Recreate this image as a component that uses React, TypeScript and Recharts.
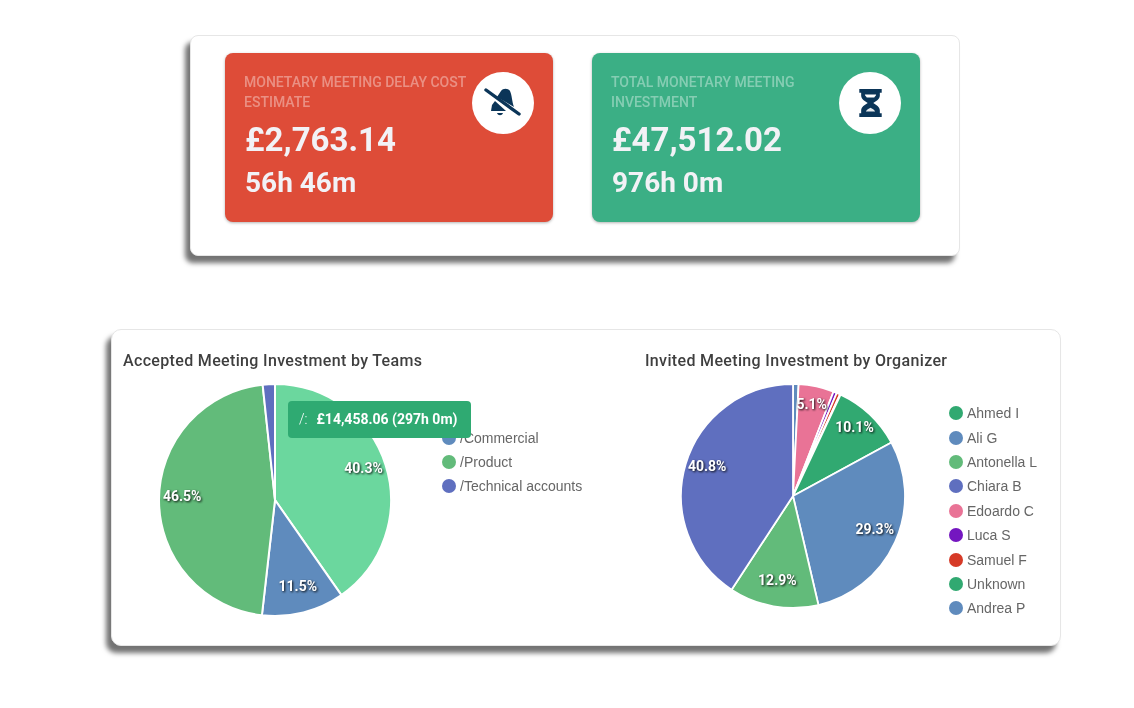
import { PieChart, Pie, Cell, Legend, Tooltip } from 'recharts'

const FONT = 'Roboto, sans-serif'

// left pie, in legend order
const teamNames = ['/', '/Commercial', '/Product', '/Technical accounts']
const teamValues = [40.3, 11.5, 46.5, 1.7]
const teamColors = ['#6BD79E', '#5F8BBD', '#62BB7A', '#5F6FBF']
const teamTooltips = ['£14,458.06 (297h 0m)', '', '', '']

// right pie, clockwise from 12 o'clock
const organizerNames = ['Andrea P', 'Edoardo C', 'Luca S', 'Samuel F', 'Unknown', 'Ahmed I', 'Ali G', 'Antonella L', 'Chiara B']
const organizerValues = [0.8, 5.1, 0.5, 0.5, 0.1, 10.1, 29.3, 12.9, 40.8]
const organizerColors = ['#5F8BBD', '#E97396', '#7416C0', '#D63A27', '#31A971', '#31A971', '#5F8BBD', '#62BB7A', '#5F6FBF']
const organizerLegend = ['Ahmed I', 'Ali G', 'Antonella L', 'Chiara B', 'Edoardo C', 'Luca S', 'Samuel F', 'Unknown', 'Andrea P']

const teamData = teamNames.map((name, i) => ({ name, value: teamValues[i], tip: teamTooltips[i] }))
const organizerData = organizerNames.map((name, i) => ({ name, value: organizerValues[i] }))

const renderLabel = ({ cx, cy, midAngle, outerRadius, value }: any) => {
  if (value < 5) return null
  const rad = (midAngle * Math.PI) / 180
  const r = outerRadius * 0.8
  return (
    <text
      x={cx + r * Math.cos(rad)}
      y={cy - r * Math.sin(rad) - 4}
      fill="#fff"
      textAnchor="middle"
      dominantBaseline="central"
      style={{ fontFamily: FONT, fontSize: 14, fontWeight: 700, filter: 'drop-shadow(1px 1px 1px rgba(0,0,0,0.9))' }}
    >
      {value.toFixed(1)}%
    </text>
  )
}

const makeLegend = (names: string[], colorOf: (name: string, i: number) => string) => () => (
  <div>
    {names.map((name, i) => (
      <div key={name} style={{ display: 'flex', alignItems: 'center', height: 24.4, fontFamily: '"Liberation Sans", Arial, sans-serif', fontSize: 14, color: '#666', whiteSpace: 'nowrap' }}>
        <span style={{ width: 14, height: 14, borderRadius: 7, marginRight: 4, background: colorOf(name, i) }} />
        {name}
      </div>
    ))}
  </div>
)

const TeamTooltip = ({ active, payload }: any) => {
  if (!active || !payload || !payload.length) return null
  const row = payload[0].payload
  return (
    <div style={{ background: '#2FAA72', color: '#fff', borderRadius: 4, width: 183, height: 37, lineHeight: '37px', fontFamily: FONT, fontSize: 14, whiteSpace: 'nowrap', boxSizing: 'border-box', paddingLeft: 11 }}>
      <span style={{ marginRight: 9, fontWeight: 300 }}>{row.name}:</span>
      <b style={{ fontWeight: 700 }}>{row.tip}</b>
    </div>
  )
}

function Stat({ left, bg, title, money, time, children }: any) {
  return (
    <div style={{ position: 'absolute', left, top: 53, width: 328, height: 169, background: bg, borderRadius: 8, boxShadow: '0 1px 3px rgba(0,0,0,0.3)', color: '#F2F2F6', fontFamily: FONT }}>
      <div style={{ position: 'absolute', left: 19, top: 19, width: 240, fontSize: 14, lineHeight: '20px', fontWeight: 500, color: 'rgba(255,255,255,0.38)' }}>{title}</div>
      <div style={{ position: 'absolute', left: 20, top: 67, fontSize: 33, lineHeight: '40px', fontWeight: 700 }}>{money}</div>
      <div style={{ position: 'absolute', left: 20, top: 113, fontSize: 28, lineHeight: '34px', fontWeight: 700 }}>{time}</div>
      <div style={{ position: 'absolute', left: 247, top: 19, width: 62, height: 62, borderRadius: 31, background: '#fff', display: 'flex', alignItems: 'center', justifyContent: 'center' }}>{children}</div>
    </div>
  )
}

const titleStyle: any = { position: 'absolute', top: 351, fontFamily: FONT, fontSize: 16, letterSpacing: 0.34, lineHeight: '20px', fontWeight: 500, color: '#3f3f3f', whiteSpace: 'nowrap' }
const panelShadow = '-5px 7px 5px rgba(0,0,0,0.55)'

export default function App() {
  return (
    <div style={{ position: 'absolute', left: 0, top: 0, width: 1134, height: 708, background: '#fff', overflow: 'hidden', filter: 'blur(0.45px)' }}>
      <div style={{ position: 'absolute', left: 190, top: 35, width: 770, height: 221, boxSizing: 'border-box', background: '#fff', border: '1px solid #e6e6e6', borderRadius: 8, boxShadow: panelShadow }} />
      <Stat left={225} bg="#DE4C38" title="MONETARY MEETING DELAY COST ESTIMATE" money="£2,763.14" time="56h 46m">
        <svg width="62" height="62" viewBox="0 0 62 62" fill="#0B3558">
          <path d="M25 25 L29 19 C31 16 36 16 38 19 C40 23 40 30 42 35 Z" />
          <path d="M20 33 L23 29 L34 39 L19 39 Z" />
          <path d="M25 41 L31 41 C30 44 26 44 25 41 Z" />
          <path d="M14 18 L47 42" stroke="#fff" strokeWidth="2" transform="translate(-1 2)" />
          <path d="M14 18 L47 42" stroke="#0B3558" strokeWidth="3.4" strokeLinecap="round" />
        </svg>
      </Stat>
      <Stat left={592} bg="#3BAF85" title="TOTAL MONETARY MEETING INVESTMENT" money="£47,512.02" time="976h 0m">
        <svg width="23" height="28" viewBox="0 0 24 30" fill="#0B3558">
          <path d="M0 0h24v4h-2v3c0 4-4 6-7 8 3 2 7 4 7 8v3h2v4H0v-4h2v-3c0-4 4-6 7-8-3-2-7-4-7-8V4H0z" />
          <path d="M6 6h12c0 1-1 2-2 3H8C7 8 6 7 6 6z" fill="#fff" />
          <path d="M12 20c-2 1-4 2-5 4h10c-1-2-3-3-5-4z" fill="#fff" opacity="0.9" />
        </svg>
      </Stat>

      <div style={{ position: 'absolute', left: 111, top: 329, width: 950, height: 317, boxSizing: 'border-box', background: '#fff', border: '1px solid #e6e6e6', borderRadius: 10, boxShadow: panelShadow }} />
      <div style={{ ...titleStyle, left: 123 }}>Accepted Meeting Investment by Teams</div>
      <div style={{ ...titleStyle, left: 645 }}>Invited Meeting Investment by Organizer</div>

      <div style={{ position: 'absolute', left: 120, top: 370 }}>
        <PieChart width={480} height={260} margin={{ top: 0, right: 0, bottom: 0, left: 0 }}>
          <Pie data={teamData} dataKey="value" nameKey="name" cx={155} cy={130} outerRadius={116} startAngle={90} endAngle={-270} stroke="#fff" strokeWidth={2} label={renderLabel} labelLine={false} isAnimationActive={false}>
            {teamData.map((_, i) => <Cell key={i} fill={teamColors[i]} />)}
          </Pie>
          <Legend layout="vertical" align="right" verticalAlign="top" wrapperStyle={{ left: 322, top: 31, width: 150 }} content={makeLegend(teamNames, (_, i) => teamColors[i])} />
          <Tooltip active defaultIndex={0} position={{ x: 168, y: 31 }} content={<TeamTooltip />} isAnimationActive={false} />
        </PieChart>
      </div>

      <div style={{ position: 'absolute', left: 640, top: 370 }}>
        <PieChart width={410} height={260} margin={{ top: 0, right: 0, bottom: 0, left: 0 }}>
          <Pie data={organizerData} dataKey="value" nameKey="name" cx={153} cy={126} outerRadius={112} startAngle={90} endAngle={-270} stroke="#fff" strokeWidth={1.8} label={renderLabel} labelLine={false} isAnimationActive={false}>
            {organizerData.map((_, i) => <Cell key={i} fill={organizerColors[i]} />)}
          </Pie>
          <Legend layout="vertical" align="right" verticalAlign="top" wrapperStyle={{ left: 309, top: 31, width: 100 }} content={makeLegend(organizerLegend, (name) => organizerColors[organizerNames.indexOf(name)])} />
        </PieChart>
      </div>
    </div>
  )
}
